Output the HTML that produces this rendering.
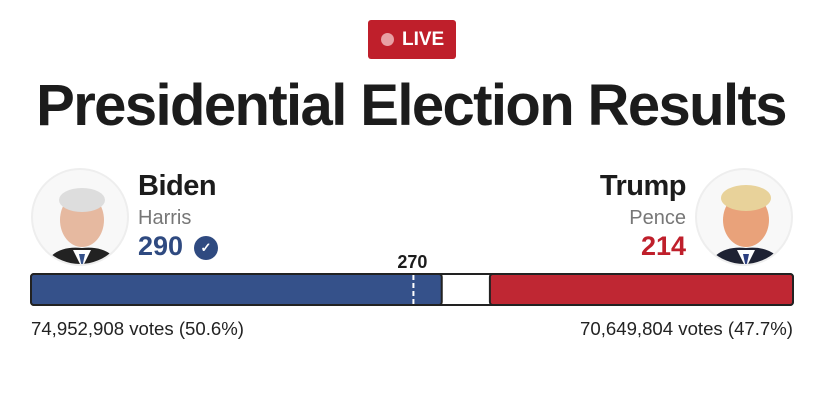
<!DOCTYPE html>
<html><head><meta charset="utf-8"><style>
*{margin:0;padding:0;box-sizing:border-box}
body{width:822px;height:406px;background:#fff;font-family:"Liberation Sans",sans-serif;position:relative;overflow:hidden}
.abs{position:absolute}
#live{left:368px;top:20px;width:88px;height:39px;background:#bf1f2b;border-radius:3px;color:#fff;font-weight:bold;font-size:19px;line-height:39px;padding-left:34px}
#live .dot{position:absolute;left:13px;top:13px;width:13px;height:13px;border-radius:50%;background:#e8a0a4}
#title{left:0;width:822px;top:70px;text-align:center;font-weight:bold;font-size:58px;letter-spacing:-1.6px;color:#1c1c1c;line-height:72px}
.photo{width:98px;height:98px;border-radius:50%;border:2px solid #eee;background:#f8f8f8;overflow:hidden}
.name{font-weight:bold;font-size:29px;color:#1c1c1c;letter-spacing:-0.5px}
.vp{font-size:20px;color:#777}
.ev{font-weight:bold;font-size:27px}
.votes{font-size:18.6px;color:#222}
</style></head><body>
<div id="live" class="abs"><span class="dot"></span>LIVE</div>
<div id="title" class="abs">Presidential Election Results</div>

<div class="abs photo" style="left:31px;top:168px">
<svg width="98" height="98"><ellipse cx="49" cy="50" rx="22" ry="27" fill="#e6b9a0"/><ellipse cx="49" cy="30" rx="23" ry="12" fill="#ddd"/><path d="M10 98 Q20 75 49 78 Q78 75 88 98Z" fill="#222"/><path d="M40 80 L49 98 L58 80Z" fill="#fff"/><path d="M46 84 L49 98 L52 84Z" fill="#35518a"/></svg></div>
<div class="abs name" style="left:138px;top:170px">Biden</div>
<div class="abs vp" style="left:138px;top:207px">Harris</div>
<div class="abs ev" style="left:138px;top:231px;color:#2f4a80">290</div>
<div class="abs" style="left:194px;top:236px;width:24px;height:24px;border-radius:50%;background:#2f4a80;color:#fff;font-size:13px;text-align:center;line-height:24px;font-weight:bold">✓</div>

<div class="abs photo" style="left:695px;top:168px">
<svg width="98" height="98"><ellipse cx="49" cy="50" rx="23" ry="27" fill="#e9a27a"/><ellipse cx="49" cy="28" rx="25" ry="13" fill="#e8d29a"/><path d="M10 98 Q20 75 49 78 Q78 75 88 98Z" fill="#1e2233"/><path d="M40 80 L49 98 L58 80Z" fill="#fff"/><path d="M46 84 L49 98 L52 84Z" fill="#2c3f80"/></svg></div>
<div class="abs name" style="right:136px;top:170px">Trump</div>
<div class="abs vp" style="right:136px;top:207px">Pence</div>
<div class="abs ev" style="right:136px;top:231px;color:#bf1f2b">214</div>

<svg id="chart" class="abs" style="left:0;top:0" width="822" height="406"></svg>

<div class="abs votes" style="left:31px;top:318px">74,952,908 votes (50.6%)</div>
<div class="abs votes" style="right:29px;top:318px">70,649,804 votes (47.7%)</div>

<script>
const totalVotes = [538];
const candidates = ["Biden","Trump"];
const electoral = [290,214];
const threshold = [270];
const NS="http://www.w3.org/2000/svg";
const svg=document.getElementById('chart');
const x0=31,x1=793,y=274,h=31;
const sx=v=>(x1-x0)*v/totalVotes[0];
function el(t,a){const e=document.createElementNS(NS,t);for(const k in a)e.setAttribute(k,a[k]);svg.appendChild(e);return e;}
const bg=el('rect',{x:x0,y:y,width:x1-x0,height:h,rx:3,fill:'#fff',stroke:'#222','stroke-width':2});


const b=el('rect',{x:x0,y:y,width:sx(electoral[0]),height:h,rx:3,fill:'#35518a',stroke:'#222','stroke-width':2});


const r=el('rect',{x:x1-sx(electoral[1]),y:y,width:sx(electoral[1]),height:h,rx:3,fill:'#bf2733',stroke:'#222','stroke-width':2});


const tx=x0+sx(threshold[0]);
const ln=el('line',{x1:tx,x2:tx,y1:y+1,y2:y+h-1,stroke:'#fff','stroke-width':2,'stroke-dasharray':'5,3'});


const t=el('text',{x:tx-1,y:y-6,'text-anchor':'middle','font-family':'Liberation Sans, sans-serif','font-weight':'bold','font-size':18,fill:'#1c1c1c'});
t.textContent=threshold[0];


</script>
</body></html>
